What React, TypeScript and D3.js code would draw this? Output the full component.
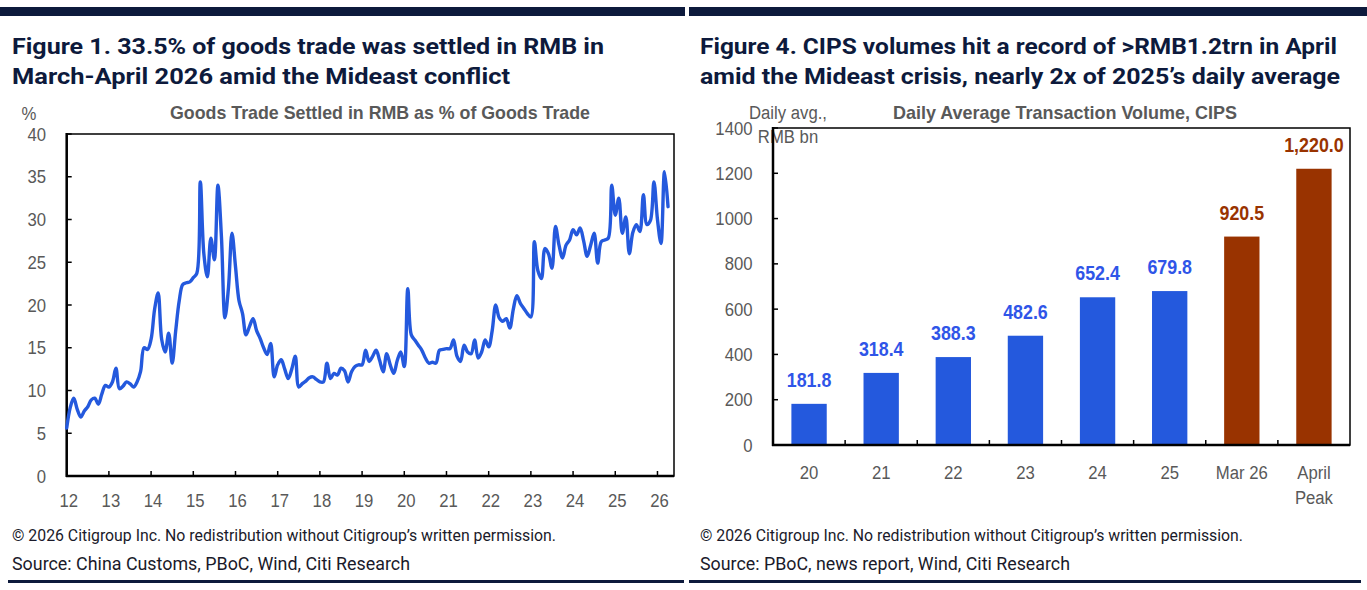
import React from 'react';
import * as d3 from 'd3';

// ---------- Data ----------
const yearLabels = ['12', '13', '14', '15', '16', '17', '18', '19', '20', '21', '22', '23', '24', '25', '26'];
// Monthly, Jan 2012 .. Apr 2026, % of goods trade settled in RMB
const rmbShare = [
  5.6, 8.0, 9.1, 7.8, 6.9, 7.6, 8.1, 8.9, 9.1, 8.4, 9.6, 10.6,
  10.4, 11.0, 12.6, 10.2, 10.5, 11.0, 10.8, 10.4, 11.0, 12.2, 15.0, 14.8,
  16.0, 19.5, 21.4, 16.0, 14.5, 16.7, 13.2, 17.0, 20.5, 22.4, 22.6, 22.7,
  23.2, 23.7, 34.4, 26.0, 23.3, 27.8, 25.3, 34.0, 28.0, 18.5, 22.0, 28.4,
  24.5, 20.5, 19.0, 16.5, 17.5, 18.4, 17.0, 16.1, 15.0, 14.2, 15.5, 11.6,
  13.0, 13.6, 12.5, 11.4, 12.5, 14.0, 10.4, 10.8, 11.1, 11.5, 11.6, 11.3,
  11.0, 11.0, 13.2, 11.4, 12.0, 11.8, 12.6, 12.3, 11.0, 12.2, 12.8, 13.0,
  13.0, 14.7, 13.4, 14.0, 14.7, 13.5, 12.2, 14.3, 13.0, 12.0, 13.5, 14.5,
  12.8, 21.9, 16.5, 15.9, 15.3, 14.7, 13.8, 13.2, 13.3, 13.2, 14.7, 14.8,
  14.9, 14.9, 15.9, 14.0, 13.4, 15.3, 14.5, 14.3, 15.9, 13.8, 14.5, 15.9,
  15.1, 17.0, 20.0, 18.5, 18.1, 18.4, 17.3, 19.5, 21.1, 20.2, 19.6, 19.0,
  18.6, 27.4, 24.0, 23.1, 26.6, 26.0, 24.3, 29.2, 27.0, 25.5, 27.0, 27.6,
  28.8, 28.2, 29.0, 27.5, 25.7, 27.0, 28.4, 24.9, 27.4, 27.6, 27.8, 34.0,
  30.5, 32.5, 28.4, 30.3, 26.0, 28.5, 29.4, 28.6, 32.9, 29.4, 29.9, 34.4,
  30.0, 27.2, 35.6, 31.5,
];
const leftYTicks = [0, 5, 10, 15, 20, 25, 30, 35, 40];

const cipsCategories = ['20', '21', '22', '23', '24', '25', 'Mar 26', 'April Peak'];
const cipsValues = [181.8, 318.4, 388.3, 482.6, 652.4, 679.8, 920.5, 1220.0];
const cipsRecent = [false, false, false, false, false, false, true, true];
const rightYTicks = [0, 200, 400, 600, 800, 1000, 1200, 1400];

// ---------- Styles ----------
const NAVY = '#0d1a3c';
const GREY = '#595959';
const BLUE = '#2459dd';
const BLUE_TXT = '#2f55e8';
const RED = '#993300';
const NARROW = "'Liberation Sans', Arial, sans-serif";
const TITLE_FONT = "Roboto, 'Noto Sans', 'Liberation Sans', sans-serif";

// Condensed text helper (emulates a narrow face by horizontal scaling)
function NT(props: {
  x: number; y: number; anchor?: 'start' | 'middle' | 'end'; sx?: number;
  size?: number; weight?: number; fill?: string; children: React.ReactNode;
}) {
  const { x, y, anchor = 'start', sx = 0.88, size = 19, weight = 400, fill = GREY, children } = props;
  return (
    <text
      transform={`translate(${x},${y}) scale(${sx},1)`}
      textAnchor={anchor}
      fontSize={size}
      fontWeight={weight}
      fill={fill}
    >
      {children}
    </text>
  );
}

export default function App() {
  // Left chart scales
  const lx = d3.scaleLinear().domain([0, 172.7]).range([66.7, 674]);
  const ly = d3.scaleLinear().domain([0, 40]).range([476, 134]);
  const linePath = d3
    .line<number>()
    .x((_, i) => lx(i))
    .y((d) => ly(d))
    .curve(d3.curveCatmullRom.alpha(0.5))(rmbShare) || '';

  // Right chart scales
  const rx = d3.scaleBand<string>().domain(cipsCategories).range([773, 1350]).paddingInner(0.51).paddingOuter(0.255);
  const ry = d3.scaleLinear().domain([0, 1400]).range([445, 128]);
  const fmt = d3.format(',.1f');
  const step = rx.step();

  return (
    <svg
      width={1367}
      height={590}
      style={{ position: 'absolute', left: 0, top: 0, display: 'block', background: '#fff' }}
    >
      <rect x={0} y={0} width={1367} height={590} fill="#fff" />
      {/* Top bars */}
      <rect x={0} y={7} width={685} height={9} fill={NAVY} />
      <rect x={689} y={7} width={678} height={9} fill={NAVY} />
      {/* Bottom rules */}
      <rect x={8} y={580} width={676} height={3} fill={NAVY} />
      <rect x={689} y={580} width={672} height={3} fill={NAVY} />

      {/* Titles */}
      <g fontFamily={TITLE_FONT} fontWeight={700} fontSize={22} fill={NAVY}>
        <text x={12} y={54} textLength={592} lengthAdjust="spacingAndGlyphs">Figure 1. 33.5% of goods trade was settled in RMB in</text>
        <text x={12} y={84} textLength={498} lengthAdjust="spacingAndGlyphs">March-April 2026 amid the Mideast conflict</text>
        <text x={700} y={54} textLength={637} lengthAdjust="spacingAndGlyphs">Figure 4. CIPS volumes hit a record of &gt;RMB1.2trn in April</text>
        <text x={700} y={84} textLength={640} lengthAdjust="spacingAndGlyphs">amid the Mideast crisis, nearly 2x of 2025’s daily average</text>
      </g>

      {/* Footers */}
      <g fontFamily={TITLE_FONT} fill="#1a1a2a">
        <text x={12} y={541} fontSize={16} textLength={544} lengthAdjust="spacingAndGlyphs">© 2026 Citigroup Inc. No redistribution without Citigroup’s written permission.</text>
        <text x={12} y={570} fontSize={18} textLength={398} lengthAdjust="spacingAndGlyphs">Source: China Customs, PBoC, Wind, Citi Research</text>
        <text x={700} y={541} fontSize={16} textLength={543} lengthAdjust="spacingAndGlyphs">© 2026 Citigroup Inc. No redistribution without Citigroup’s written permission.</text>
        <text x={700} y={570} fontSize={18} textLength={370} lengthAdjust="spacingAndGlyphs">Source: PBoC, news report, Wind, Citi Research</text>
      </g>

      {/* ---------- Left chart ---------- */}
      <g fontFamily={NARROW}>
        <text x={380} y={119} textAnchor="middle" fontWeight={700} fontSize={19} fill={GREY} textLength={420} lengthAdjust="spacingAndGlyphs">
          Goods Trade Settled in RMB as % of Goods Trade
        </text>
        <NT x={29} y={120} anchor="middle">%</NT>
        {leftYTicks.map((t) => (
          <g key={'ly' + t}>
            <NT x={46} y={ly(t) + 6.5} anchor="end">{t}</NT>
            <line x1={lx(0)} x2={lx(0) + 5} y1={ly(t)} y2={ly(t)} stroke="#000" strokeWidth={1.5} />
          </g>
        ))}
        {yearLabels.map((lab, i) => (
          <g key={'lx' + lab}>
            <line x1={lx(i * 12)} x2={lx(i * 12)} y1={476} y2={471} stroke="#000" strokeWidth={1.5} />
            <NT x={lx(i * 12) + 2} y={507} anchor="middle">{lab}</NT>
          </g>
        ))}
        <rect x={66.7} y={134} width={674 - 66.7} height={476 - 134} fill="none" stroke="#000" strokeWidth={1.5} />
        <line x1={66.7} x2={66.7} y1={133} y2={477} stroke="#000" strokeWidth={2.5} />
        <line x1={66} x2={674} y1={476} y2={476} stroke="#000" strokeWidth={2.5} />
        <path d={linePath} fill="none" stroke={BLUE} strokeWidth={3.4} strokeLinejoin="round" strokeLinecap="round" />
      </g>

      {/* ---------- Right chart ---------- */}
      <g fontFamily={NARROW}>
        <text x={1065} y={119} textAnchor="middle" fontWeight={700} fontSize={19} fill={GREY} textLength={344} lengthAdjust="spacingAndGlyphs">
          Daily Average Transaction Volume, CIPS
        </text>
        {rightYTicks.map((t) => (
          <g key={'ry' + t}>
            <NT x={752.5} y={ry(t) + 6.5} anchor="end">{t}</NT>
            <line x1={773} x2={778} y1={ry(t)} y2={ry(t)} stroke="#000" strokeWidth={1.5} />
          </g>
        ))}
        <NT x={788} y={119} anchor="middle">Daily avg.,</NT>
        <NT x={788} y={143} anchor="middle">RMB bn</NT>
        {cipsCategories.map((c, i) => {
          const x0 = rx(c) as number;
          const bw = rx.bandwidth();
          const cx = x0 + bw / 2;
          const v = cipsValues[i];
          const col = cipsRecent[i] ? RED : BLUE;
          const parts = c === 'April Peak' ? ['April', 'Peak'] : [c];
          return (
            <g key={'bar' + c}>
              <rect x={x0} y={ry(v)} width={bw} height={ry(0) - ry(v)} fill={col} />
              <NT x={cx} y={ry(v) - 17} anchor="middle" weight={700} size={21} sx={0.85} fill={cipsRecent[i] ? RED : BLUE_TXT}>
                {fmt(v)}
              </NT>
              {parts.map((p, k) => (
                <NT key={p} x={cx} y={479 + k * 25} anchor="middle">{p}</NT>
              ))}
              {i > 0 && (
                <line x1={773 + i * step} x2={773 + i * step} y1={445} y2={440} stroke="#000" strokeWidth={1.5} />
              )}
            </g>
          );
        })}
        <rect x={773} y={128} width={1350 - 773} height={445 - 128} fill="none" stroke="#000" strokeWidth={1.5} />
        <line x1={773} x2={773} y1={127} y2={446} stroke="#000" strokeWidth={2.5} />
        <line x1={772} x2={1350} y1={445} y2={445} stroke="#000" strokeWidth={2.5} />
      </g>
    </svg>
  );
}
